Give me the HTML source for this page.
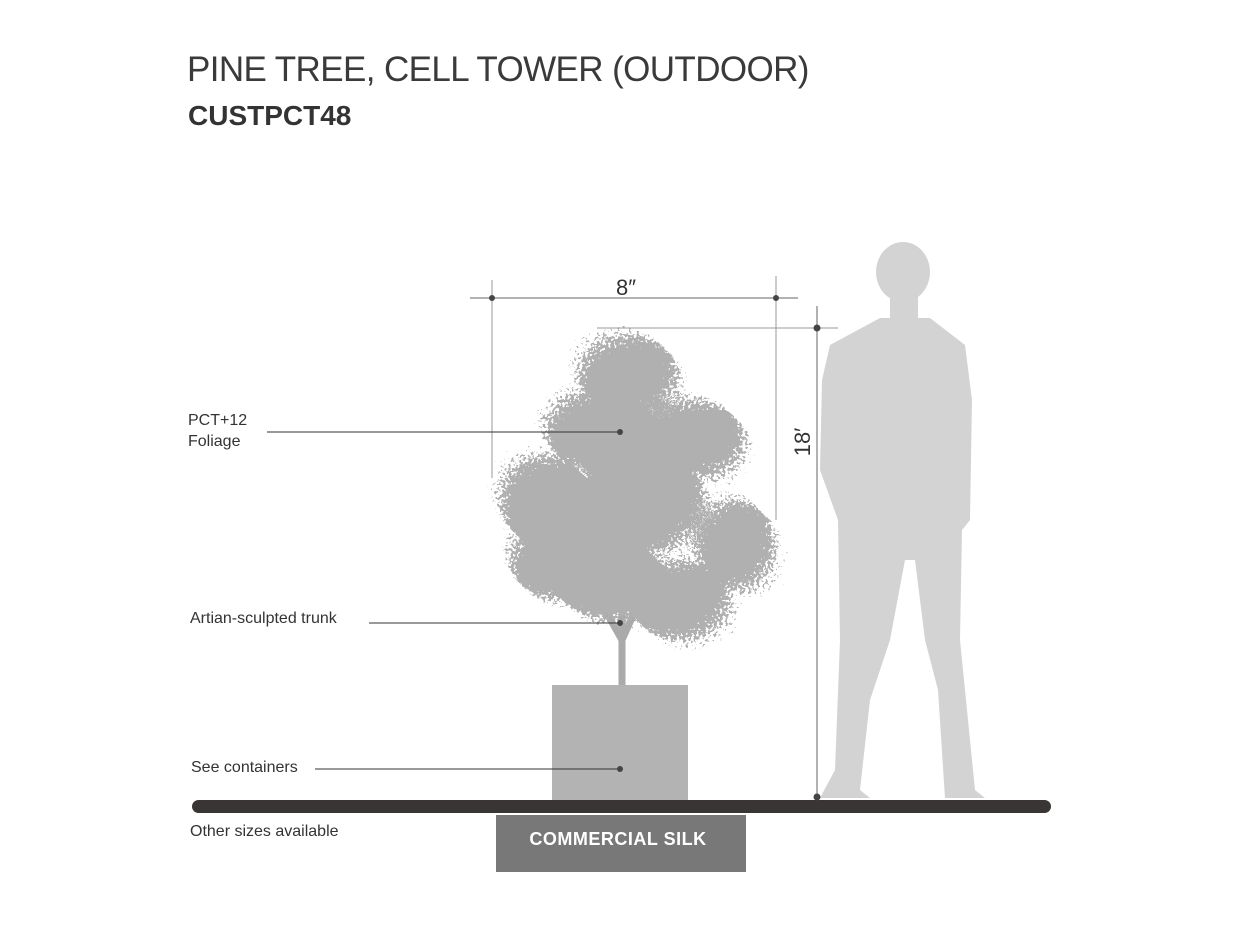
<!DOCTYPE html>
<html><head><meta charset="utf-8"><style>
html,body{margin:0;padding:0;background:#fff;}
body{width:1240px;height:930px;position:relative;overflow:hidden;font-family:"Liberation Sans",sans-serif;color:#333;}
.t{position:absolute;white-space:nowrap;}
</style></head><body>
<div class="t" style="left:187px;top:50px;font-size:35px;color:#3a3a3a;letter-spacing:-0.6px;">PINE TREE, CELL TOWER (OUTDOOR)</div>
<div class="t" style="left:188px;top:100px;font-size:28px;font-weight:bold;color:#333;">CUSTPCT48</div>
<div class="t" style="left:188px;top:410px;font-size:16px;line-height:21px;">PCT+12<br>Foliage</div>
<div class="t" style="left:190px;top:610px;font-size:16px;">Artian-sculpted trunk</div>
<div class="t" style="left:191px;top:759px;font-size:16px;">See containers</div>
<div class="t" style="left:190px;top:823px;font-size:16px;">Other sizes available</div>
<svg width="1240" height="930" style="position:absolute;left:0;top:0">
<defs>
<filter id="spk"><feTurbulence type="fractalNoise" baseFrequency="0.35" numOctaves="2" seed="3"/><feDisplacementMap in="SourceGraphic" scale="40"/></filter>
</defs>
<g fill="#d3d3d3">
<ellipse cx="903" cy="272" rx="27" ry="30"/>
<rect x="890" y="295" width="28" height="30"/>
<path d="M830 345 L880 318 L930 318 L965 345 L972 400 L970 520 L962 530 L960 640 L975 790 L985 798 L945 798 L938 690 L925 640 L915 560 L905 560 L890 640 L870 700 L860 790 L870 798 L820 798 L835 770 L840 640 L838 520 L820 470 L822 380 Z"/>
</g>
<g stroke="#aaa" stroke-width="7" fill="none" stroke-linecap="round">
<path d="M622 685 L622 640 L640 600"/><path d="M622 640 L605 610"/><path d="M622 640 L622 560"/>
</g>
<g fill="#b0b0b0" filter="url(#spk)">
<ellipse cx="628" cy="375" rx="50" ry="40"/>
<ellipse cx="600" cy="430" rx="55" ry="40"/>
<ellipse cx="690" cy="440" rx="55" ry="40"/>
<ellipse cx="545" cy="500" rx="45" ry="45"/>
<ellipse cx="640" cy="500" rx="65" ry="55"/>
<ellipse cx="735" cy="545" rx="40" ry="45"/>
<ellipse cx="560" cy="560" rx="50" ry="40"/>
<ellipse cx="680" cy="600" rx="50" ry="40"/>
<ellipse cx="610" cy="580" rx="55" ry="40"/>
</g>
<rect x="552" y="685" width="136" height="116" fill="#b3b3b3"/>
<rect x="192" y="800" width="859" height="13" rx="6.5" fill="#3a3535"/>
<rect x="496" y="815" width="250" height="57" fill="#787878"/>
<g stroke="#666" stroke-width="1" fill="none">
<line x1="470" y1="298" x2="798" y2="298"/>
<line x1="492" y1="280" x2="492" y2="478" stroke="#999"/>
<line x1="776" y1="276" x2="776" y2="520" stroke="#999"/>
<line x1="597" y1="328" x2="838" y2="328" stroke="#999"/>
<line x1="817" y1="306" x2="817" y2="800"/>
<line x1="267" y1="432" x2="620" y2="432" stroke="#333"/>
<line x1="369" y1="623" x2="620" y2="623" stroke="#333"/>
<line x1="315" y1="769" x2="620" y2="769" stroke="#333"/>
</g>
<g fill="#444">
<circle cx="492" cy="298" r="3"/><circle cx="776" cy="298" r="3"/>
<circle cx="817" cy="328" r="3.5"/><circle cx="817" cy="797" r="3.5"/>
<circle cx="620" cy="432" r="3"/><circle cx="620" cy="623" r="3"/><circle cx="620" cy="769" r="3"/>
</g>
<text x="626" y="295" font-size="22" text-anchor="middle" fill="#333" font-family="Liberation Sans">8″</text>
<text transform="translate(810,442) rotate(-90)" font-size="22" text-anchor="middle" fill="#333" font-family="Liberation Sans">18′</text>
<text x="618" y="845" font-size="18" font-weight="bold" text-anchor="middle" fill="#fff" font-family="Liberation Sans" letter-spacing="0.5">COMMERCIAL SILK</text>
</svg>
</body></html>
